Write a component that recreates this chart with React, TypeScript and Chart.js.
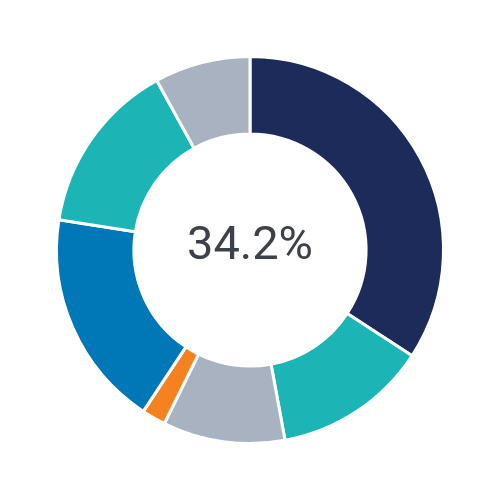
import React, { useEffect, useRef } from "react";
import { Chart, registerables } from "chart.js";

Chart.register(...registerables);

const labels = ["A", "B", "C", "D", "E", "F", "G"];
const values = [34.2, 12.9, 10.2, 2.0, 18.2, 14.5, 8.0];
const colors = ["#1c2b5a", "#1cb5b5", "#a8b2c1", "#f58220", "#0077b6", "#1cb5b5", "#a8b2c1"];
const centerLabel = "34.2%";

const centerText = {
  id: "centerText",
  afterDraw(chart: any) {
    const meta = chart.getDatasetMeta(0);
    const arc = meta.data[0];
    if (!arc) return;
    const { x, y } = arc;
    const ctx = chart.ctx;
    ctx.save();
    ctx.font = "47px Roboto";
    ctx.fillStyle = "#3d4149";
    ctx.textAlign = "center";
    ctx.textBaseline = "middle";
    ctx.fillText(centerLabel, x, y - 3);
    ctx.restore();
  },
};

export default function App() {
  const ref = useRef<HTMLCanvasElement>(null);
  useEffect(() => {
    const chart = new Chart(ref.current!, {
      type: "doughnut",
      data: {
        labels,
        datasets: [
          {
            data: values,
            backgroundColor: colors,
            borderColor: "#ffffff",
            borderWidth: 3,
          },
        ],
      },
      options: {
        animation: false,
        responsive: false,
        cutout: "60%",
        layout: { padding: 55 },
        plugins: { legend: { display: false }, tooltip: { enabled: false } },
      },
      plugins: [centerText],
    });
    return () => chart.destroy();
  }, []);
  return (
    <div style={{ position: "absolute", left: 0, top: 0, width: 500, height: 500, background: "#fff" }}>
      <canvas ref={ref} width={500} height={500} />
    </div>
  );
}
